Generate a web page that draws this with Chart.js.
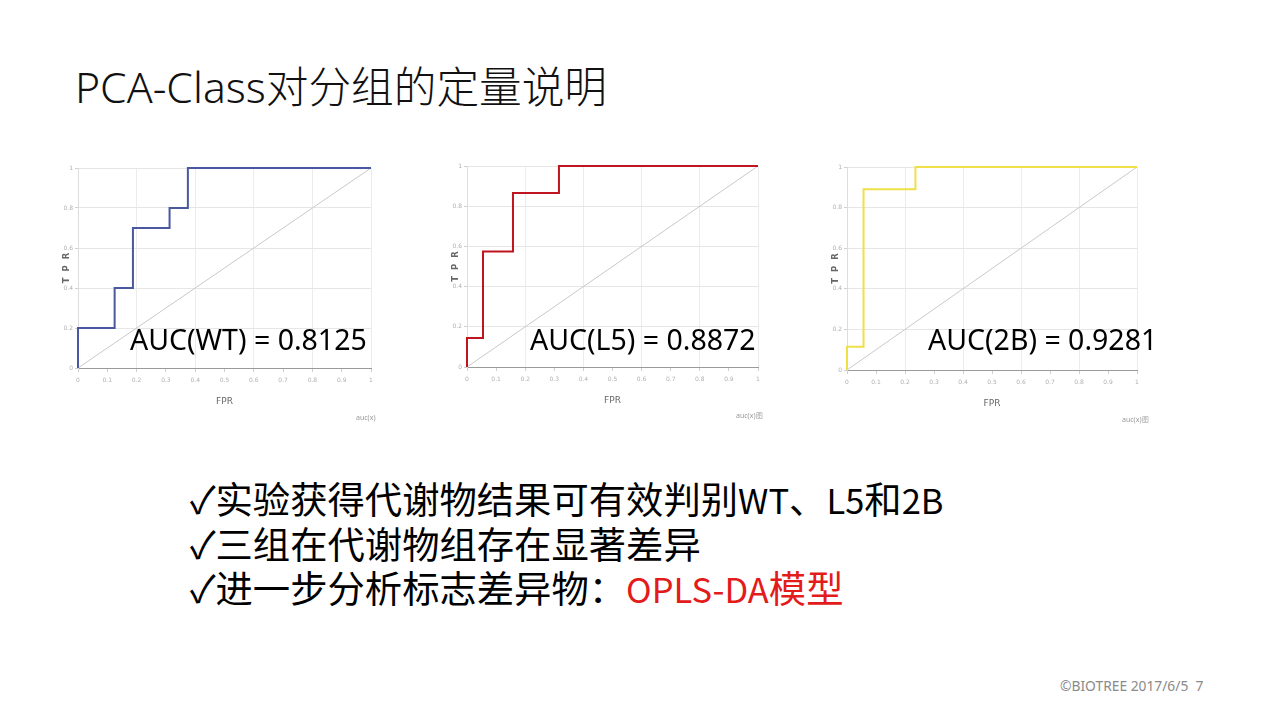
<!DOCTYPE html>
<html>
<head>
<meta charset="utf-8">
<script src="https://cdn.jsdelivr.net/npm/chart.js@4"></script>
<style>
  html, body { margin: 0; padding: 0; background: #fff; }
  body { width: 1279px; height: 720px; position: relative; overflow: hidden; }
  .abs { position: absolute; white-space: nowrap; }
  #title { left: 75px; top: 66px; font-family: "Noto Sans", "Noto Sans CJK SC", sans-serif; font-weight: 300; font-size: 42.67px; line-height: 42.67px; color: #111; }
  .auc { font-family: "Noto Sans", sans-serif; font-size: 28.5px; line-height: 28.5px; color: #000; }
  .small { font-family: "Noto Sans", sans-serif; font-size: 7px; color: #999; }
  #bullets { left: 190px; top: 476px; font-family: "Noto Sans CJK SC", sans-serif; font-size: 37.33px; line-height: 44px; color: #000; }
  #bullets .lat { font-size: 34.5px; }
  #bullets .red { color: #e31b1b; }
  #footer { left: 1060px; top: 679px; font-family: "Noto Sans", sans-serif; font-size: 13.8px; line-height: 14px; color: #8a8a8a; }
  canvas { position: absolute; }
</style>
</head>
<body>
<div id="title" class="abs">PCA-Class对分组的定量说明</div>

<canvas id="c1"></canvas>
<canvas id="c2"></canvas>
<canvas id="c3"></canvas>

<div class="abs auc" style="left:130px; top:325px;">AUC(WT) = 0.8125</div>
<div class="abs auc" style="left:530px; top:325px;">AUC(L5) = 0.8872</div>
<div class="abs auc" style="left:928px; top:325px;">AUC(2B) = 0.9281</div>

<div class="abs small" style="left:356px; top:413px;">auc(x)</div>
<div class="abs small" style="left:736px; top:411px;">auc(x)图</div>
<div class="abs small" style="left:1122px; top:415px;">auc(x)图</div>

<div id="bullets" class="abs">✓实验获得代谢物结果可有效判别<span class="lat">WT</span>、<span class="lat">L5</span>和<span class="lat">2B</span><br>✓三组在代谢物组存在显著差异<br>✓进一步分析标志差异物：<span class="red"><span class="lat">OPLS-DA</span>模型</span></div>

<div id="footer" class="abs">©BIOTREE 2017/6/5&nbsp;&nbsp;7</div>

<script>
// ---- data ----
const fprWT = [0, 0, 0.125, 0.125, 0.1875, 0.1875, 0.3125, 0.3125, 0.375, 0.375, 1];
const tprWT = [0, 0.2, 0.2, 0.4, 0.4, 0.7, 0.7, 0.8, 0.8, 1, 1];

const fprL5 = [0, 0, 0.055, 0.055, 0.158, 0.158, 0.316, 0.316, 1];
const tprL5 = [0, 0.144, 0.144, 0.575, 0.575, 0.866, 0.866, 1, 1];

const fpr2B = [0, 0, 0.057, 0.057, 0.236, 0.236, 1];
const tpr2B = [0, 0.115, 0.115, 0.89, 0.89, 1, 1];

const diagX = [0, 1];
const diagY = [0, 1];

const xTickLabels = ['0', '0.1', '0.2', '0.3', '0.4', '0.5', '0.6', '0.7', '0.8', '0.9', '1'];
const yTickLabels = ['0', '0.2', '0.4', '0.6', '0.8', '1'];

// ---- layout (plot-area boxes in page pixels) ----
const boxes = {
  c1: { L: 78, R: 371, T: 168, B: 368, color: '#4a58a0' },
  c2: { L: 467, R: 758, T: 166, B: 367, color: '#c0141e' },
  c3: { L: 847, R: 1137, T: 167, B: 370, color: '#f0df45' }
};
const YW = 23, PADT = 18, PADR = 14, XH = 47;

function pts(xs, ys) { return xs.map((x, i) => ({ x: x, y: ys[i] })); }

function makeChart(id, fpr, tpr) {
  const b = boxes[id];
  const cv = document.getElementById(id);
  const w = b.R - b.L + YW + PADR;
  const h = b.B - b.T + PADT + XH;
  cv.width = w; cv.height = h;
  cv.style.width = w + 'px'; cv.style.height = h + 'px';
  cv.style.left = (b.L - YW) + 'px';
  cv.style.top = (b.T - PADT) + 'px';

  new Chart(cv, {
    type: 'scatter',
    data: {
      datasets: [
        {
          data: pts(fpr, tpr),
          showLine: true,
          stepped: 'before',
          borderColor: b.color,
          backgroundColor: b.color,
          borderWidth: 2,
          pointRadius: 0,
          clip: 4,
          order: 1
        },
        {
          data: pts(diagX, diagY),
          showLine: true,
          borderColor: '#c9c9c9',
          borderWidth: 1,
          pointRadius: 0,
          order: 2
        }
      ]
    },
    options: {
      responsive: false,
      animation: false,
      devicePixelRatio: 1,
      layout: { padding: { top: PADT, right: PADR, left: 0, bottom: 0 } },
      plugins: { legend: { display: false }, tooltip: { enabled: false } },
      scales: {
        x: {
          type: 'linear', min: 0, max: 1,
          afterFit: s => { s.height = XH; s.paddingLeft = 0; s.paddingRight = 0; },
          ticks: {
            stepSize: 0.1, autoSkip: false, maxRotation: 0,
            font: { size: 6, family: 'DejaVu Sans' }, color: '#b0b0b0', padding: 5,
            callback: (v, i) => xTickLabels[i]
          },
          grid: {
            color: c => (Math.round(c.tick.value * 10) % 2 === 0 ? '#ececec' : 'rgba(0,0,0,0)'),
            tickColor: '#cfcfcf', tickLength: 4
          },
          border: { color: '#9a9a9a', width: 1 },
          title: {
            display: true, text: 'FPR', color: '#666',
            font: { size: 9, family: 'DejaVu Sans' },
            padding: { top: 7, bottom: 8 }
          }
        },
        y: {
          type: 'linear', min: 0, max: 1,
          afterFit: s => { s.width = YW; s.paddingTop = 0; s.paddingBottom = 0; },
          ticks: {
            stepSize: 0.2, autoSkip: false,
            font: { size: 6, family: 'DejaVu Sans' }, color: '#b0b0b0', padding: 2,
            callback: (v, i) => yTickLabels[i]
          },
          grid: { color: '#e6e6e6', tickColor: '#cfcfcf', tickLength: 3 },
          border: { color: '#dddddd', width: 1 },
          title: {
            display: true, text: 'T  P  R', color: '#666',
            font: { size: 8.5, family: 'DejaVu Sans', weight: 'bold' },
            padding: { top: 7, bottom: 0 }
          }
        }
      }
    }
  });
}

makeChart('c1', fprWT, tprWT);
makeChart('c2', fprL5, tprL5);
makeChart('c3', fpr2B, tpr2B);
</script>
</body>
</html>
